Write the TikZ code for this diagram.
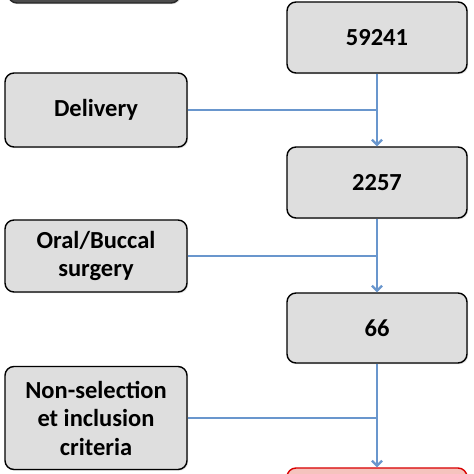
\documentclass[tikz,border=0pt]{standalone}
\usepackage{fontspec}
\setmainfont{Carlito}
\usetikzlibrary{shadows,arrows.meta}

\definecolor{flowblue}{RGB}{105,150,205}
\definecolor{boxgray}{RGB}{222,222,222}
\definecolor{finalred}{RGB}{245,195,190}

\tikzset{
  stagebox/.style={draw=black,line width=1.4pt,rounded corners=9pt,fill=boxgray,
    minimum width=180pt,minimum height=71pt,align=center,font=\fontsize{24.5}{28.5}\selectfont\bfseries,
    drop shadow={opacity=0.25,shadow xshift=1.2pt,shadow yshift=-1.2pt}},
  exclbox/.style={stagebox,minimum width=182pt},
  finalbox/.style={stagebox,draw=red!85!black,fill=finalred},
  flow/.style={draw=flowblue,line width=2.2pt},
  flowarrow/.style={flow,-{Straight Barb[length=5pt,width=10pt]}}
}

\begin{document}
\begin{tikzpicture}[x=1pt,y=1pt]
\useasboundingbox (0,0) rectangle (474,474);
\begin{scope}
\clip (0,0) rectangle (474,474);
\node[exclbox,minimum width=172pt,minimum height=72pt,draw=black!85,fill=black!70] (top) at (94,507) {};
\node[stagebox] (n1) at (377,436.5) {\raisebox{-3pt}{59241}};
\node[stagebox] (n2) at (377,291.5) {\raisebox{-2pt}{2257}};
\node[stagebox,minimum height=70pt] (n3) at (377,146) {\raisebox{-2pt}{66}};
\node[finalbox] (n4) at (377,-29.5) {};
\node[exclbox,minimum height=74pt] (e1) at (96,364) {\raisebox{-3pt}{Delivery}};
\node[exclbox,minimum height=72pt] (e2) at (96,218) {Oral/Buccal\\surgery};
\node[exclbox,minimum height=103pt] (e3) at (96,56) {Non-selection\\et inclusion\\criteria};

\draw[flowarrow] (n1.south) -- (n2.north);
\draw[flowarrow] (n2.south) -- (n3.north);
\draw[flowarrow] (n3.south) -- (n4.north);
\draw[flow] (e1.east) -- (e1.east -| n1.south);
\draw[flow] (e2.east) -- (e2.east -| n2.south);
\draw[flow] (e3.east) -- (e3.east -| n3.south);
\end{scope}
\end{tikzpicture}
\end{document}
